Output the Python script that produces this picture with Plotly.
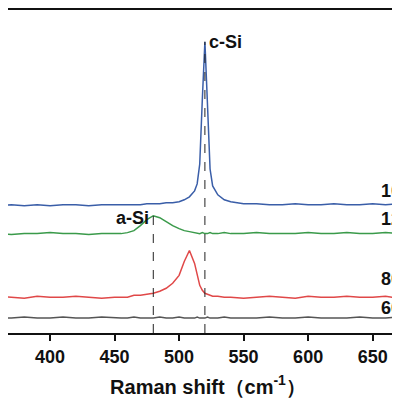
import plotly.graph_objects as go

shift = [360, 370, 380, 390, 400, 410, 420, 430, 440, 450,
         455, 460, 465, 470, 475, 480, 485, 490, 495, 500,
         504, 508, 512, 514, 516, 518, 520, 522, 524, 526,
         530, 535, 540, 550, 560, 570, 580, 590, 600, 610,
         620, 630, 640, 650, 660, 670, 680]

int_100 = [128, 129, 128, 129, 128, 129, 129, 128, 129, 129,
           129, 129, 129, 129, 130, 130, 130, 131, 131, 132,
           134, 137, 143, 150, 170, 235, 293, 230, 165, 148,
           139, 134, 132, 130, 130, 129, 129, 130, 129, 129,
           130, 129, 129, 130, 129, 130, 129]
int_120 = [100, 99, 100, 100, 101, 100, 100, 99, 100, 100,
           100, 101, 103, 108, 114, 118, 116, 112, 108, 105,
           103, 102, 101, 101, 100, 101, 100, 100, 101, 100,
           100, 101, 100, 100, 101, 100, 100, 100, 101, 100,
           100, 101, 100, 100, 101, 100, 100]
int_80 = [37, 36, 35, 37, 36, 36, 37, 36, 35, 36,
          36, 36, 38, 38, 39, 40, 42, 45, 50, 58,
          72, 83, 70, 58, 48, 43, 40, 39, 38, 37,
          37, 36, 36, 35, 36, 37, 36, 35, 37, 36,
          36, 37, 36, 36, 37, 35, 36]
int_60 = [15, 15, 16, 15, 15, 16, 15, 15, 16, 15,
          15, 15, 16, 15, 15, 15, 16, 15, 15, 16,
          15, 15, 15, 16, 15, 15, 15, 16, 15, 15,
          15, 16, 15, 15, 15, 16, 15, 15, 16, 15,
          15, 15, 16, 15, 15, 16, 15]

asi_pos, asi_top = 480, 118
csi_pos, csi_top = 520, 293

fig = go.Figure()
for y, c in [(int_60, '#555555'), (int_80, '#e04848'), (int_120, '#3a9a4a'), (int_100, '#3a5ea8')]:
    fig.add_trace(go.Scatter(x=shift, y=y, mode='lines', line=dict(color=c, width=1.5)))
for xp, top in [(asi_pos, asi_top), (csi_pos, csi_top)]:
    fig.add_trace(go.Scatter(x=[xp, xp], y=[0, top], mode='lines',
                             line=dict(color='#222', width=1, dash='dash')))

font = dict(family='Liberation Sans', size=18, color='#111')
labels = [('100°C', 131), ('120°C', 103), ('80°C', 42), ('60°C', 13)]
for txt, yv in labels:
    fig.add_annotation(x=655, y=yv, text='<b>%s</b>' % txt, showarrow=False,
                       xanchor='left', yanchor='bottom', font=font)
fig.add_annotation(x=csi_pos + 2, y=csi_top, text='<b>c-Si</b>', showarrow=False,
                   xanchor='left', yanchor='middle', font=font)
fig.add_annotation(x=asi_pos - 2, y=asi_top - 2, text='<b>a-Si</b>', showarrow=False,
                   xanchor='right', yanchor='middle', font=font)

fig.update_layout(
    width=400, height=400, showlegend=False,
    margin=dict(l=0, r=0, t=0, b=75),
    plot_bgcolor='white', paper_bgcolor='white',
    xaxis=dict(range=[367.4, 677.4], tickvals=[400, 450, 500, 550, 600, 650],
               ticks='outside', ticklen=6, tickwidth=2, tickcolor='#111',
               showline=True, linecolor='#111', linewidth=2, mirror=True,
               showgrid=False, zeroline=False,
               tickfont=dict(family='Liberation Sans', size=18, color='#111', weight='bold'),
               title=dict(text='<b>Raman shift（cm<sup>-1</sup>）</b>', standoff=14,
                          font=dict(family='Liberation Sans', size=20, color='#111'))),
    yaxis=dict(range=[0, 325], showticklabels=False, ticks='', showgrid=False,
               zeroline=False, showline=False),
)
fig.write_html('out.html')
